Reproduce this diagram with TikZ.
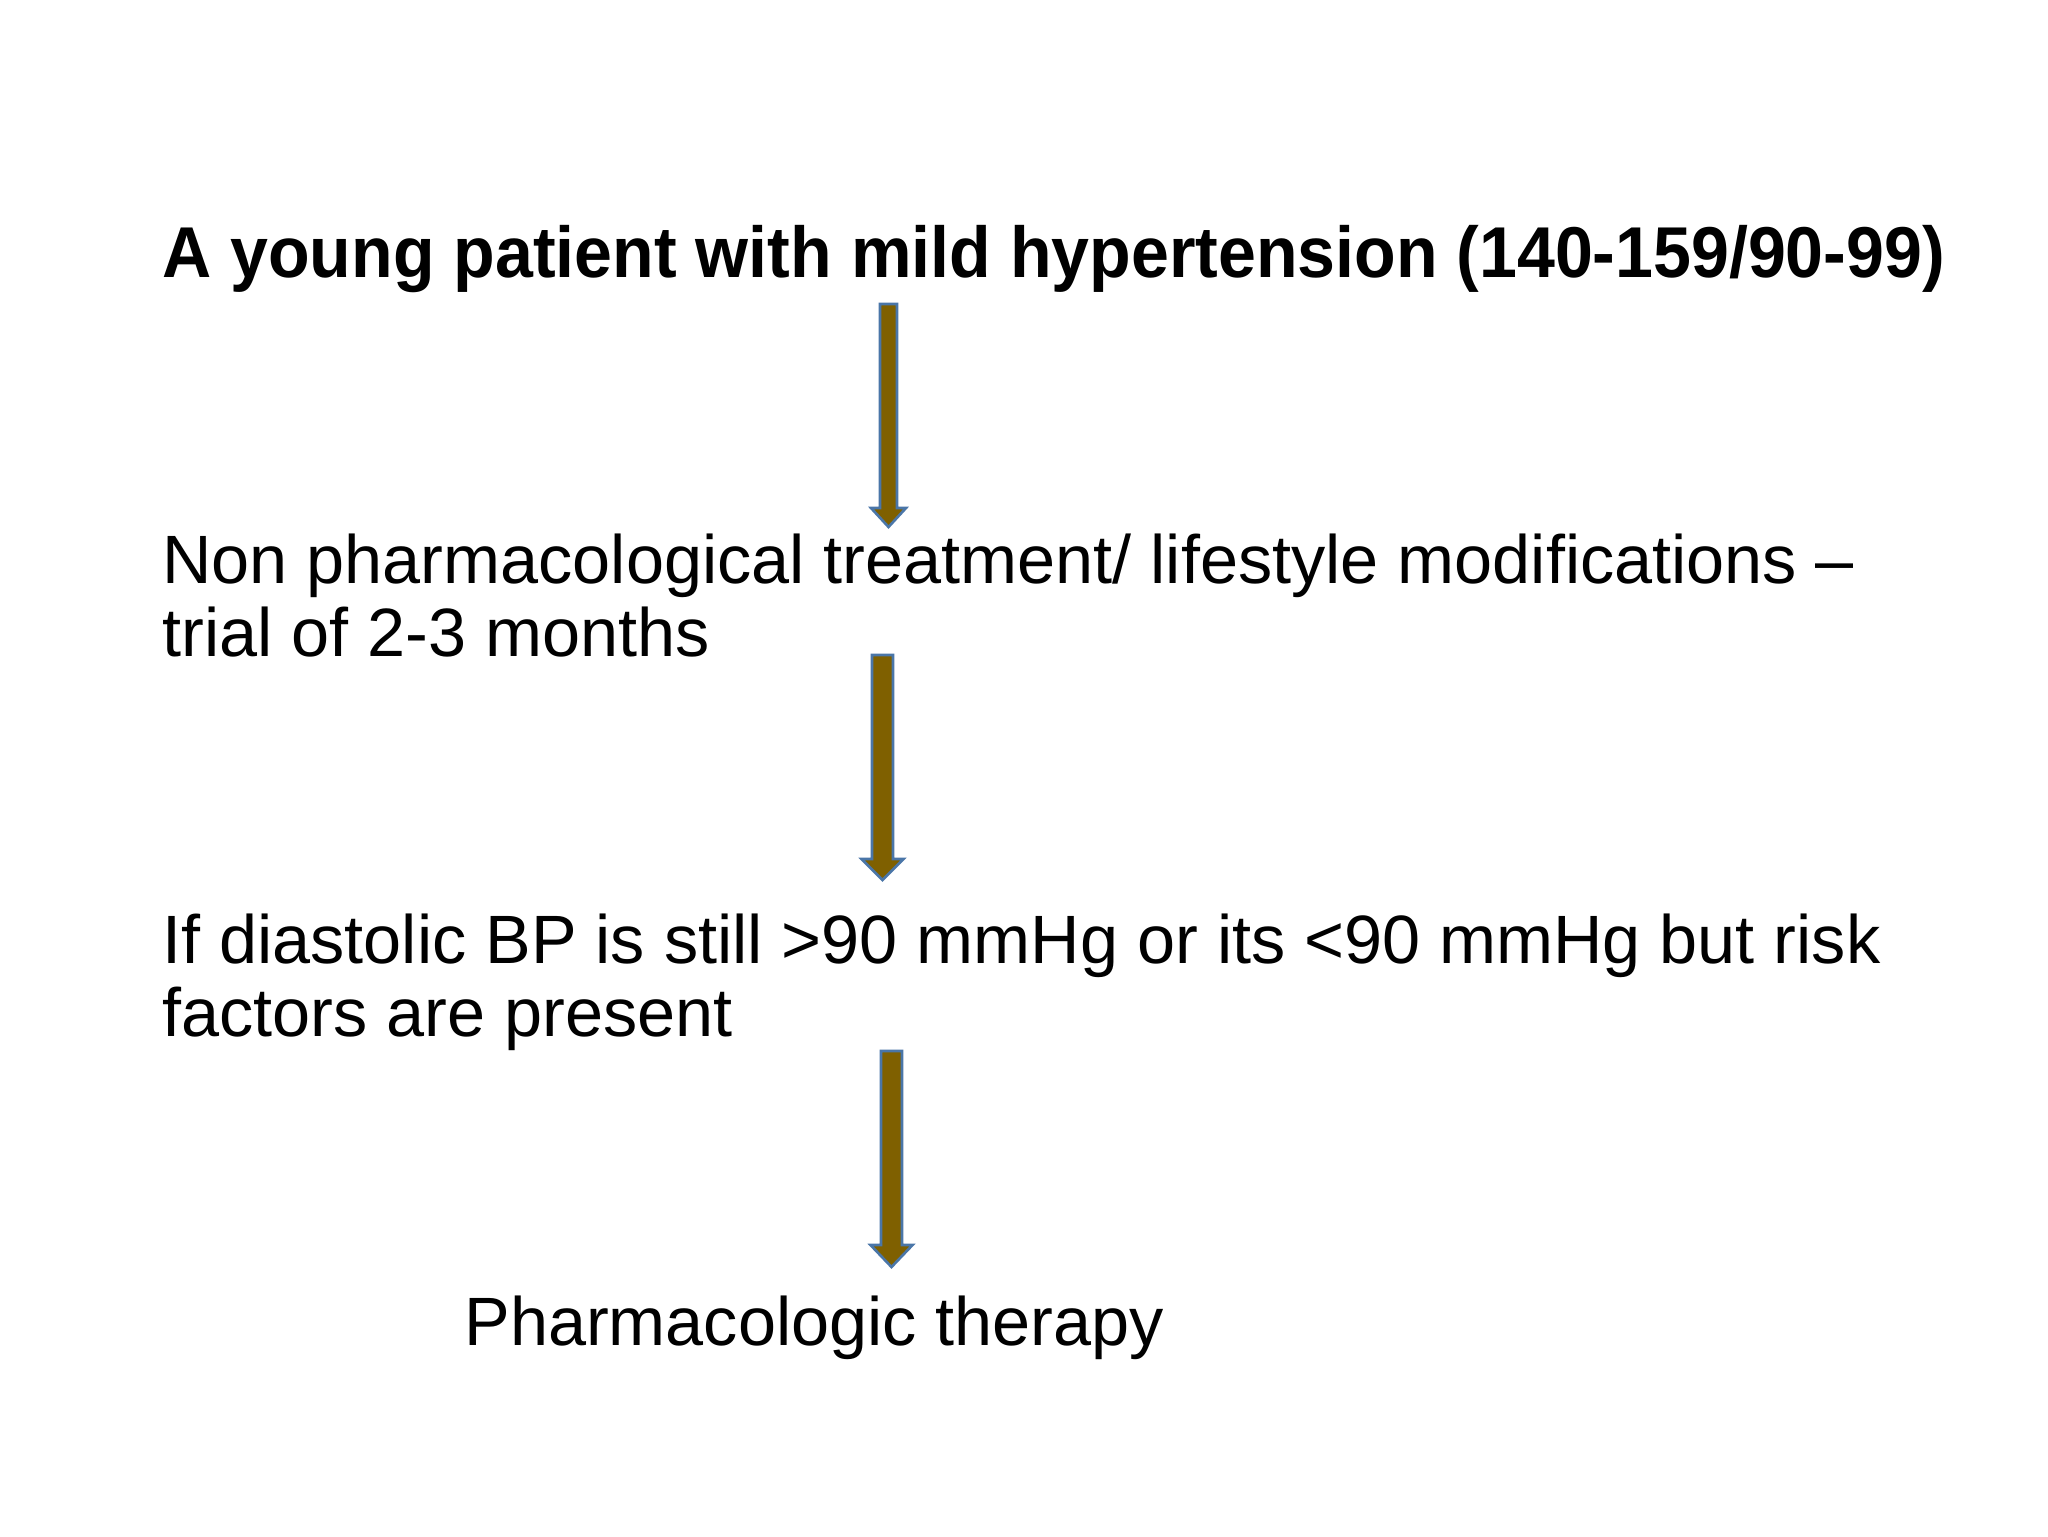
\documentclass[tikz,border=0pt]{standalone}
\usepackage{fontspec}
\setmainfont{Liberation Sans}
\definecolor{arrfill}{HTML}{7F6000}
\definecolor{arredge}{HTML}{4A76A8}
\tikzset{
  txt/.style={anchor=base west, inner sep=0pt, align=left, font=\fontsize{34.2}{36.5}\selectfont},
  ttl/.style={anchor=base west, inner sep=0pt, xscale=0.946, font=\fontsize{36}{40}\selectfont\bfseries},
  blockarrow/.style={fill=arrfill, draw=arredge, line width=1.3pt, line join=miter}
}
% #1 center x, #2 top y, #3 head base y, #4 tip y, #5 shaft half width, #6 head half width
\newcommand{\myblockarrow}[6]{%
  \path[blockarrow] (#1-#5,#2) -- (#1+#5,#2) -- (#1+#5,#3) -- (#1+#6,#3) -- (#1,#4) -- (#1-#6,#3) -- (#1-#5,#3) -- cycle;}
\begin{document}
\begin{tikzpicture}[x=0.5pt,y=-0.5pt]
\useasboundingbox[fill=white] (0,0) rectangle (2048,1536);
\node[ttl] (title) at (162,277) {A young patient with mild hypertension (140-159/90-99)};
\node[txt] (nonpharm) at (162,656) {Non pharmacological treatment/ lifestyle modifications –\\trial of 2-3 months};
\node[txt] (diast) at (162,1036) {If diastolic BP is still >90 mmHg or its <90 mmHg but risk\\factors are present};
\node[txt] (pharm) at (464,1345) {Pharmacologic therapy};
\myblockarrow{888.5}{304}{508}{527}{8.5}{17.5}
\myblockarrow{882.5}{655}{859}{880}{10.5}{21}
\myblockarrow{891.5}{1051}{1245}{1267}{10.5}{21}
\end{tikzpicture}
\end{document}
